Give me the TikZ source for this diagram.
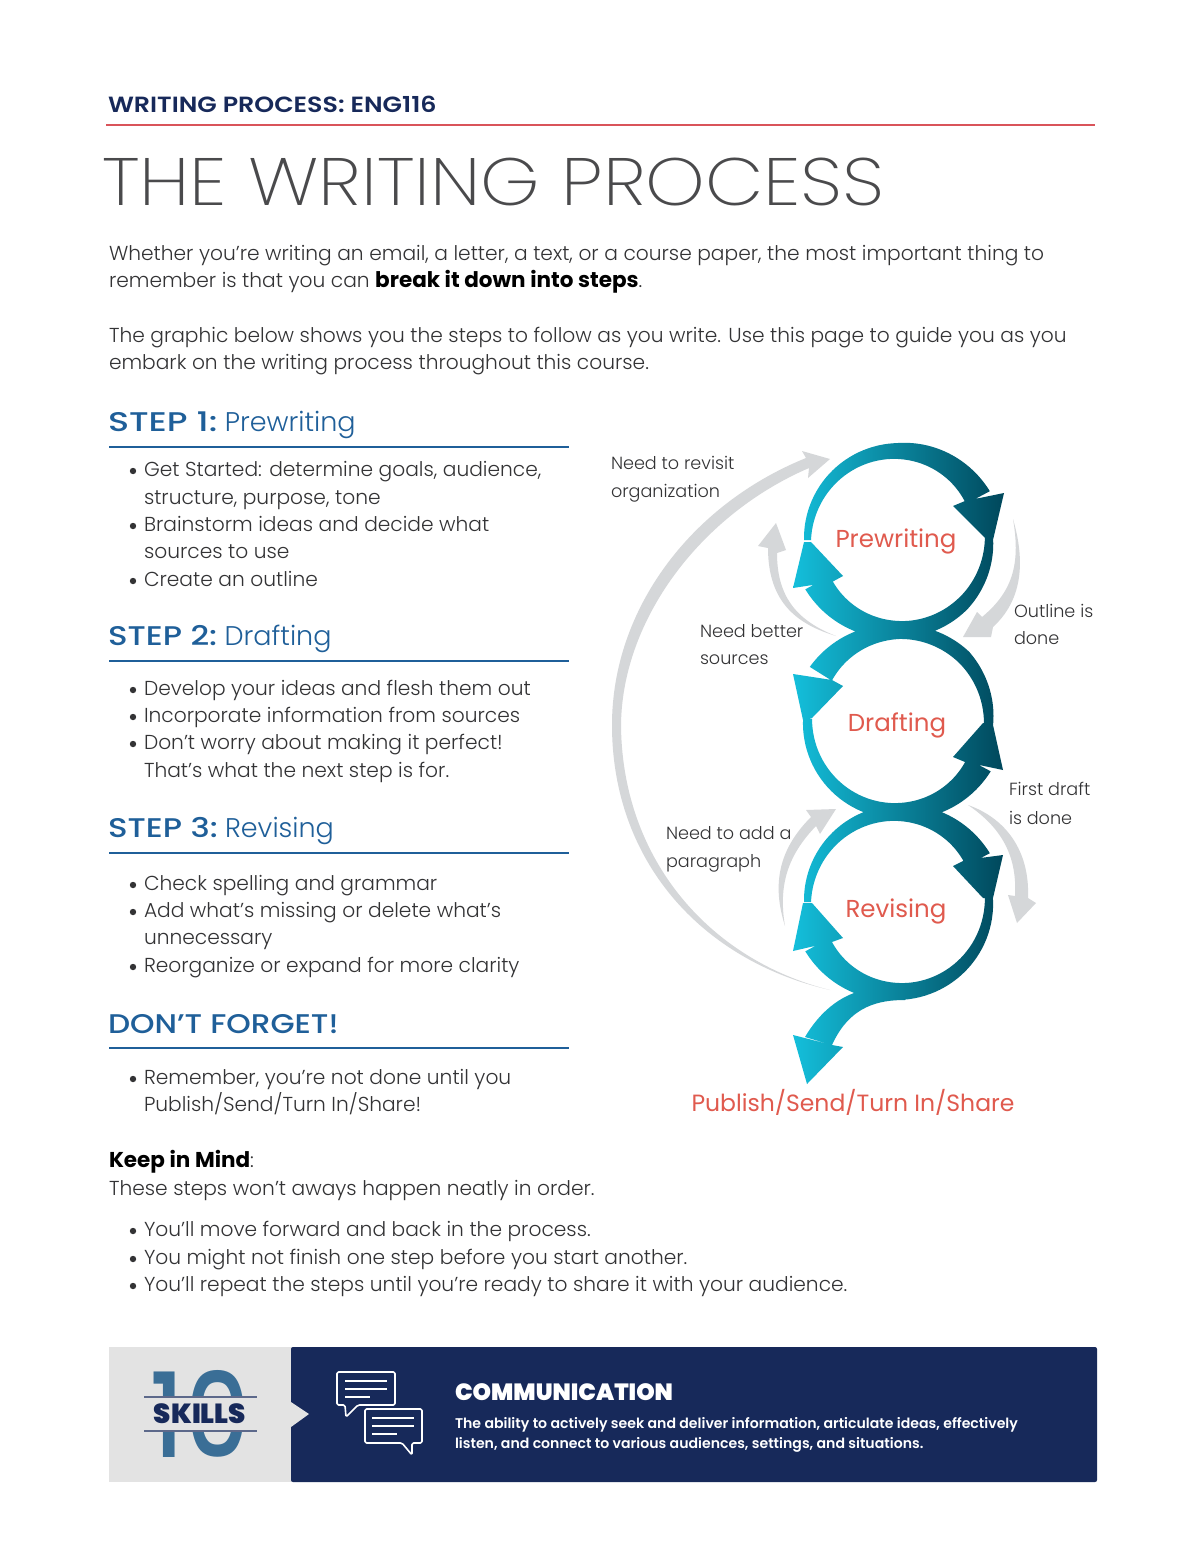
\documentclass[tikz,border=0pt]{standalone}
\usepackage{fontspec}
\usepackage{graphicx}
\setmainfont{Poppins}
\newfontfamily\fl{Poppins Light}
\newfontfamily\fxl{Poppins ExtraLight}
\newfontfamily\fm{Poppins Medium}
\newfontfamily\fsb{Poppins SemiBold}
\newfontfamily\fb{Poppins Bold}
\newfontfamily\fbl{Poppins Black}
\definecolor{navy}{HTML}{17295A}
\definecolor{redrule}{HTML}{D9545A}
\definecolor{titlegray}{HTML}{4A4A4C}
\definecolor{bodyc}{HTML}{333335}
\definecolor{stepblue}{HTML}{1F5F99}
\definecolor{coral}{HTML}{E05A4E}
\definecolor{arrowgray}{HTML}{D5D7D9}
\definecolor{ca}{HTML}{14BFDB}
\definecolor{cb}{HTML}{0F7A92}
\definecolor{cc}{HTML}{00475B}
\definecolor{tenblue}{HTML}{3A6E96}
\newcommand\seg[8]{plot[domain=#3:#4,samples=30] ({#1+(#5+(#6-#5)*(\x-#3)/(#4-#3))*cos(\x)},{#2+(#5+(#6-#5)*(\x-#3)/(#4-#3))*sin(\x)}) -- plot[domain=#4:#3,samples=30] ({#1+(#7+(#8-#7)*(\x-#3)/(#4-#3))*cos(\x)},{#2+(#7+(#8-#7)*(\x-#3)/(#4-#3))*sin(\x)}) -- cycle }
\newcommand\bfrun[1]{{\fb\fontsize{21.5}{21.5}\selectfont\color{black}#1}}
\newcommand\stepw[2]{{\fm\scalebox{#1}[1]{#2}}}
\tikzset{
  tx/.style={anchor=base west,inner sep=0pt,outer sep=0pt,text=bodyc,yshift=1pt},
  body/.style={tx,font=\fl\fontsize{20.2}{20.2}\selectfont},
  lab/.style={tx,font=\fl\fontsize{17.6}{17.6}\selectfont},
  red/.style={anchor=base,inner sep=0pt,outer sep=0pt,text=coral,yshift=1pt,font=\fontsize{24.5}{24.5}\selectfont},
  head/.style={tx,yshift=1pt,text=stepblue,font=\fl\fontsize{27}{27}\selectfont},
  hrule/.style={draw=stepblue,line width=1.2pt},
  bul/.style={fill=bodyc,draw=none},
  grad/.style={left color=ca,middle color=cb,right color=cc,shading angle=90},
  garrow/.style={fill=arrowgray,draw=none},
  icon/.style={draw=white,line width=1.6pt,line join=round},
  iconl/.style={draw=white,line width=1.4pt}
}
\begin{document}
\begin{tikzpicture}[x=1pt,y=-1pt]
\useasboundingbox (0,0) rectangle (1200,1553);
\fill[white] (0,0) rectangle (1200,1553);
% header
\node[tx,xscale=1.15,text=navy,font=\fsb\fontsize{22}{22}\selectfont] (hdr) at (108,113) {WRITING PROCESS: ENG116};
\draw[redrule,line width=1.2pt] (106,125) -- (1095,125);
\node[tx,yshift=-1pt,xscale=1.13,text=titlegray,font=\fxl\fontsize{67}{67}\selectfont] (title) at (102,205) {THE WRITING PROCESS};
% intro
\node[body] (i1) at (109,261) {Whether you’re writing an email, a letter, a text, or a course paper, the most important thing to};
\node[body] (i2) at (109,288) {remember is that you can \bfrun{break it down into steps}.};
\node[body] (i3) at (109,343) {The graphic below shows you the steps to follow as you write. Use this page to guide you as you};
\node[body] (i4) at (109,370) {embark on the writing process throughout this course.};
% step 1
\node[head] (s1) at (108,433) {\stepw{1.29}{STEP 1:} Prewriting};
\draw[hrule] (109,447) -- (569,447);
\node[body] (a1) at (144,477) {Get Started: determine goals, audience,};
\node[body] (a2) at (144,505) {structure, purpose, tone};
\node[body] (a3) at (144,532) {Brainstorm ideas and decide what};
\node[body] (a4) at (144,559) {sources to use};
\node[body] (a5) at (144,587) {Create an outline};
% step 2
\node[head] (s2) at (108,647) {\stepw{1.2}{STEP 2:} Drafting};
\draw[hrule] (109,661) -- (569,661);
\node[body] (b1) at (144,696) {Develop your ideas and flesh them out};
\node[body] (b2) at (144,723) {Incorporate information from sources};
\node[body] (b3) at (144,750) {Don’t worry about making it perfect!};
\node[body] (b4) at (144,778) {That’s what the next step is for.};
% step 3
\node[head] (s3) at (108,839) {\stepw{1.2}{STEP 3:} Revising};
\draw[hrule] (109,853) -- (569,853);
\node[body] (c1) at (144,891) {Check spelling and grammar};
\node[body] (c2) at (144,918) {Add what’s missing or delete what’s};
\node[body] (c3) at (144,945) {unnecessary};
\node[body] (c4) at (144,973) {Reorganize or expand for more clarity};
% don't forget
\node[head] (s4) at (108,1035) {\stepw{1.155}{DON’T FORGET!}};
\draw[hrule] (109,1048) -- (569,1048);
\node[body] (d1) at (144,1085) {Remember, you’re not done until you};
\node[body] (d2) at (144,1112) {Publish/Send/Turn In/Share!};
% keep in mind
\node[body] (k0) at (109,1168) {\bfrun{Keep in Mind}:};
\node[body] (k1) at (109,1196) {These steps won’t aways happen neatly in order.};
\node[body] (k2) at (144,1237) {You’ll move forward and back in the process.};
\node[body] (k3) at (144,1265) {You might not finish one step before you start another.};
\node[body] (k4) at (144,1292) {You’ll repeat the steps until you’re ready to share it with your audience.};
% bullets
\foreach \yy in {471,526,581,690,717,744,885,912,967,1079,1231,1259,1286}
  \fill[bul] (133,\yy) circle (3.2);
% grey feedback arrows
\fill[garrow] (830,990) .. controls (700,960) and (612,860) .. (612,725)
  .. controls (612,610) and (690,505) .. (806,458)
  -- (802,451) -- (830,459) -- (808,478) -- (809,468)
  .. controls (700,515) and (622,620) .. (621,725)
  .. controls (622,860) and (710,960) .. (830,990) -- cycle;
\fill[garrow] (836,636) .. controls (800,625) and (768,605) .. (768,548)
  -- (758,546) -- (776,523) -- (786,550) -- (777,553)
  .. controls (777,595) and (795,620) .. (836,636) -- cycle;
\fill[garrow] (1013,519) .. controls (1022,550) and (1028,595) .. (993,627) -- (991,637) -- (963,637) -- (977,612) -- (982,617)
  .. controls (1015,590) and (1020,560) .. (1013,519) -- cycle;
\fill[garrow] (968,805) .. controls (1005,818) and (1030,850) .. (1028,898) -- (1036,903) -- (1017,923) -- (1008,895) -- (1015,896)
  .. controls (1017,860) and (1005,830) .. (968,805) -- cycle;
\fill[garrow] (785,926) .. controls (772,885) and (778,850) .. (811,817) -- (806,810) -- (836,809) -- (820,834) -- (816,826)
  .. controls (788,855) and (778,885) .. (785,926) -- cycle;
% teal spiral
\shade[grad]
  % Prewriting
  \seg{898}{540}{180}{271}{94}{97}{87}{81}
  \seg{898}{540}{270}{332}{97}{104}{81}{77}
  \seg{898}{540}{-3}{45}{95}{98}{87}{84}
  \seg{898}{540}{44}{90}{98}{98}{84}{81}
  \seg{898}{540}{89}{152}{98}{105}{81}{77}
  (1004,493) -- (993,540) -- (985,538) -- (953,506) -- (965,501) -- cycle
  (811,542) -- (843,576) -- (832,582) -- (793,588) -- (804,542) -- cycle
  % Drafting
  \seg{898}{722}{212}{271}{104}{97}{78}{83}
  \seg{898}{722}{270}{316}{97}{100}{83}{85}
  \seg{898}{722}{315}{363}{100}{95}{85}{86}
  \seg{898}{722}{28}{90}{105}{97}{78}{81}
  \seg{898}{722}{89}{182}{97}{95}{81}{86}
  (793,674) -- (832,680) -- (843,686) -- (812,718) -- (803,720) -- cycle
  (983,723) -- (993,725) -- (1003,770) -- (965,762) -- (953,757) -- cycle
  % Revising
  \seg{898}{902}{180}{271}{94}{97}{87}{81}
  \seg{898}{902}{270}{332}{97}{104}{81}{77}
  \seg{898}{902}{-3}{90}{95}{98}{87}{81}
  \seg{898}{902}{89}{152}{98}{105}{81}{77}
  (1003,855) -- (993,898) -- (983,898) -- (953,866) -- (965,860) -- cycle
  (812,903) -- (843,938) -- (832,942) -- (793,951) -- (803,903) -- cycle
  % tail
  (805,1037) .. controls (818,1015) and (835,1000) .. (854,993) .. controls (870,985) and (885,983) .. (900,983)
  -- (905,1000) .. controls (880,1000) and (850,1005) .. (832,1045) -- cycle
  (793,1035) -- (832,1045) -- (843,1047) -- (807,1084) -- cycle;
% diagram labels
\node[red] (pw) at (896,548) {Prewriting};
\node[red] (dr) at (897,732) {Drafting};
\node[red] (rv) at (896,918) {Revising};
\node[red,font=\fontsize{23.5}{23.5}\selectfont] (pb) at (853,1112) {Publish/Send/Turn In/Share};
\node[lab] (l1a) at (611,470) {Need to revisit};
\node[lab] (l1b) at (611,498) {organization};
\node[lab] (l2a) at (700,638) {Need better};
\node[lab] (l2b) at (700,665) {sources};
\node[lab] (l3a) at (1014,618) {Outline is};
\node[lab] (l3b) at (1014,645) {done};
\node[lab] (l4a) at (1009,796) {First draft};
\node[lab] (l4b) at (1009,825) {is done};
\node[lab] (l5a) at (666,840) {Need to add a};
\node[lab] (l5b) at (666,868) {paragraph};
% footer
\fill[fill=black!11] (109,1347) rectangle (300,1482);
\fill[navy,rounded corners=2pt] (291,1347) -- (1097,1347) -- (1097,1482) -- (291,1482) -- cycle;
\fill[black!11] (291,1402) -- (309,1414) -- (291,1427) -- cycle;
\node[inner sep=0pt,outer sep=0pt,text=tenblue] (ten) at (200,1414) {\resizebox{100pt}{87pt}{\fm 10}};
\fill[black!11] (140,1397) rectangle (262,1431);
\draw[navy!70!white,line width=1.2pt] (144,1397) -- (257,1397);
\draw[navy!70!white,line width=1.2pt] (144,1431) -- (257,1431);
\node[inner sep=0pt,outer sep=0pt,text=navy,font=\fbl\fontsize{22}{22}\selectfont] (sk) at (200,1414) {\resizebox{92pt}{!}{SKILLS}};
% icon
\draw[icon,rounded corners=1.5pt] (358,1405) -- (346,1417) -- (345,1405) -- (337,1405) -- (337,1372) -- (395,1372) -- (395,1405) -- cycle;
\draw[iconl] (345,1381) -- (387,1381) (345,1389) -- (387,1389) (345,1397) -- (370,1397);
\draw[icon,rounded corners=1.5pt] (402,1443) -- (412,1455) -- (412,1443) -- (422,1443) -- (422,1409) -- (365,1409) -- (365,1443) -- cycle;
\draw[iconl] (372,1418) -- (414,1418) (372,1426) -- (414,1426) (372,1434) -- (397,1434);
\node[anchor=base west,inner sep=0pt,outer sep=0pt,text=white,font=\fbl\fontsize{22}{22}\selectfont] (com) at (455,1400) {\resizebox{218pt}{!}{COMMUNICATION}};
\node[anchor=base west,inner sep=0pt,outer sep=0pt,text=white,font=\fsb\fontsize{14.1}{14.1}\selectfont] (co1) at (455,1428) {The ability to actively seek and deliver information, articulate ideas, effectively};
\node[anchor=base west,inner sep=0pt,outer sep=0pt,text=white,font=\fsb\fontsize{14.1}{14.1}\selectfont] (co2) at (455,1448) {listen, and connect to various audiences, settings, and situations.};
\end{tikzpicture}
\end{document}
